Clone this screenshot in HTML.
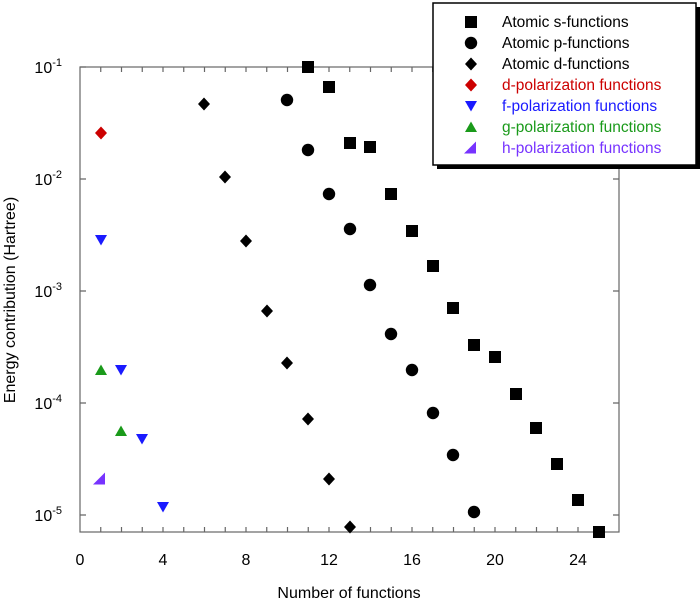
<!DOCTYPE html>
<html><head><meta charset="utf-8"><style>body{margin:0;background:#fff}svg{display:block}</style></head><body>
<svg width="700" height="604" viewBox="0 0 700 604" xmlns="http://www.w3.org/2000/svg" font-family="Liberation Sans, sans-serif">
<defs>
<rect id="sq" x="-6" y="-6" width="12" height="12" fill="#000"/>
<circle id="ci" r="6.2" fill="#000"/>
<path id="dm" d="M0,-6.5 L6,0 L0,6.5 L-6,0Z"/>
<path id="td" d="M-6,-5 L6,-5 L0,5.5Z" fill="#1a1aff"/>
<path id="tu" d="M-6,5 L6,5 L0,-5.5Z" fill="#1a9a1a"/>
<path id="th" d="M-6,5.5 L6,5.5 L6,-6.5Z" fill="#7733ff"/>
</defs>
<g stroke="#666" stroke-width="1.2" fill="none">
<rect x="80" y="67" width="539" height="465"/>
<path d="M80,67h6M80,179h6M80,291h6M80,403h6M80,515h6M619,67h-6M619,179h-6M619,291h-6M619,403h-6M619,515h-6"/>
<path d="M100.75,532v-5M121.5,532v-5M142.25,532v-5M163,532v-5M183.75,532v-5M204.5,532v-5M225.25,532v-5M246,532v-5M266.75,532v-5M287.5,532v-5M308.25,532v-5M329,532v-5M349.75,532v-5M370.5,532v-5M391.25,532v-5M412,532v-5M432.75,532v-5M453.5,532v-5M474.25,532v-5M495,532v-5M515.75,532v-5M536.5,532v-5M557.25,532v-5M578,532v-5M598.75,532v-5"/>
<path d="M100.75,67v5M121.5,67v5M142.25,67v5M163,67v5M183.75,67v5M204.5,67v5M225.25,67v5M246,67v5M266.75,67v5M287.5,67v5M308.25,67v5M329,67v5M349.75,67v5M370.5,67v5M391.25,67v5M412,67v5M432.75,67v5"/>
</g>
<g font-size="16" text-anchor="end" fill="#000">
<text x="62" y="73">10<tspan font-size="11" dy="-7">-1</tspan></text>
<text x="62" y="185">10<tspan font-size="11" dy="-7">-2</tspan></text>
<text x="62" y="297">10<tspan font-size="11" dy="-7">-3</tspan></text>
<text x="62" y="409">10<tspan font-size="11" dy="-7">-4</tspan></text>
<text x="62" y="521">10<tspan font-size="11" dy="-7">-5</tspan></text>
</g>
<g font-size="16" text-anchor="middle">
<text x="80" y="565">0</text><text x="163" y="565">4</text><text x="246" y="565">8</text><text x="329" y="565">12</text><text x="412" y="565">16</text><text x="495" y="565">20</text><text x="578" y="565">24</text>
<text x="349" y="598">Number of functions</text>
<text transform="translate(15,300) rotate(-90)">Energy contribution (Hartree)</text>
</g>
<g>
<use href="#sq" x="308" y="67"/><use href="#sq" x="329" y="87"/><use href="#sq" x="350" y="143"/><use href="#sq" x="370" y="147"/><use href="#sq" x="391" y="194"/><use href="#sq" x="412" y="231"/><use href="#sq" x="433" y="266"/><use href="#sq" x="453" y="308"/><use href="#sq" x="474" y="345"/><use href="#sq" x="495" y="357"/><use href="#sq" x="516" y="394"/><use href="#sq" x="536" y="428"/><use href="#sq" x="557" y="464"/><use href="#sq" x="578" y="500"/><use href="#sq" x="599" y="532"/>
<use href="#ci" x="287" y="100"/><use href="#ci" x="308" y="150"/><use href="#ci" x="329" y="194"/><use href="#ci" x="350" y="229"/><use href="#ci" x="370" y="285"/><use href="#ci" x="391" y="334"/><use href="#ci" x="412" y="370"/><use href="#ci" x="433" y="413"/><use href="#ci" x="453" y="455"/><use href="#ci" x="474" y="512"/>
<g fill="#000"><use href="#dm" x="204" y="104"/><use href="#dm" x="225" y="177"/><use href="#dm" x="246" y="241"/><use href="#dm" x="267" y="311"/><use href="#dm" x="287" y="363"/><use href="#dm" x="308" y="419"/><use href="#dm" x="329" y="479"/><use href="#dm" x="350" y="527"/></g>
<use href="#dm" x="101" y="133" fill="#cc0000"/>
<use href="#td" x="101" y="240"/><use href="#td" x="121" y="370"/><use href="#td" x="142" y="439"/><use href="#td" x="163" y="507"/>
<use href="#tu" x="101" y="370"/><use href="#tu" x="121" y="431"/>
<use href="#th" x="99" y="479"/>
</g>
<rect x="437" y="7" width="263" height="162" fill="#000"/>
<rect x="433" y="3" width="263" height="162" fill="#fff" stroke="#000" stroke-width="1.5"/>
<g font-size="15.5">
<use href="#sq" x="471" y="22"/><text x="502" y="27">Atomic s-functions</text>
<use href="#ci" x="471" y="43"/><text x="502" y="48">Atomic p-functions</text>
<use href="#dm" x="471" y="64" fill="#000"/><text x="502" y="69">Atomic d-functions</text>
<use href="#dm" x="471" y="85" fill="#cc0000"/><text x="502" y="90" fill="#cc0000">d-polarization functions</text>
<use href="#td" x="471" y="106"/><text x="502" y="111" fill="#1a1aff">f-polarization functions</text>
<use href="#tu" x="471" y="127"/><text x="502" y="132" fill="#1a9a1a">g-polarization functions</text>
<use href="#th" x="470" y="148"/><text x="502" y="153" fill="#7733ff">h-polarization functions</text>
</g>
</svg>
</body></html>
